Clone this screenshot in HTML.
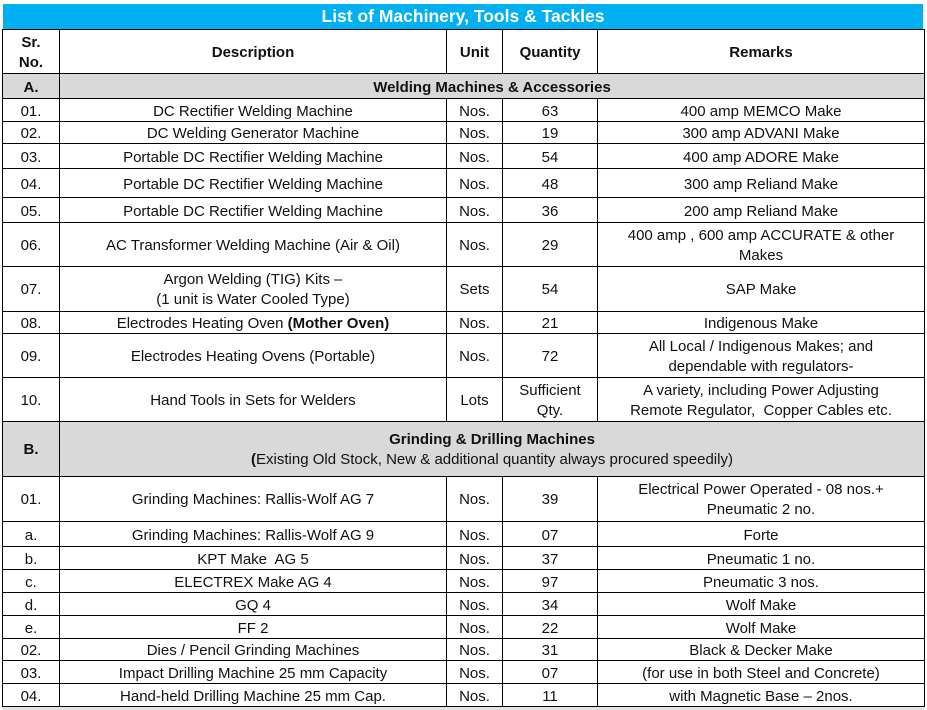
<!DOCTYPE html>
<html><head><meta charset="utf-8"><style>
body{margin:0;width:927px;height:710px;background:#fff;position:relative;overflow:hidden;font-family:"Liberation Sans",sans-serif;}
.title{position:absolute;left:3px;top:4px;width:920px;height:25px;background:#00b0f0;color:#fff;font-weight:bold;font-size:17.5px;text-align:center;line-height:25px;}
table{position:absolute;left:2px;top:29px;border-collapse:collapse;table-layout:fixed;width:922px;font-size:15px;color:#111;}
td{border:1px solid #000;text-align:center;vertical-align:middle;padding:2px 2px 0 2px;line-height:19px;white-space:nowrap;overflow:hidden;}
tr.m td{line-height:20px;}
.g td{background:#d9d9d9;}
b{font-weight:bold}
.bot{position:absolute;left:2px;top:707px;width:922px;height:3px;background:#e4e4e4;}
</style></head><body>
<div class="title">List of Machinery, Tools &amp; Tackles</div>
<table>
<colgroup><col style="width:57px"><col style="width:387px"><col style="width:56px"><col style="width:95px"><col style="width:327px"></colgroup>
<tr class="m" style="height:44px"><td><b>Sr.<br>No.</b></td><td><b>Description</b></td><td><b>Unit</b></td><td><b>Quantity</b></td><td><b>Remarks</b></td></tr>
<tr class="g" style="height:25px"><td><b>A.</b></td><td colspan="4"><b>Welding Machines &amp; Accessories</b></td></tr>
<tr style="height:23px"><td>01.</td><td>DC Rectifier Welding Machine</td><td>Nos.</td><td>63</td><td>400 amp MEMCO Make</td></tr>
<tr style="height:22px"><td>02.</td><td>DC Welding Generator Machine</td><td>Nos.</td><td>19</td><td>300 amp ADVANI Make</td></tr>
<tr style="height:25px"><td>03.</td><td>Portable DC Rectifier Welding Machine</td><td>Nos.</td><td>54</td><td>400 amp ADORE Make</td></tr>
<tr style="height:29px"><td>04.</td><td>Portable DC Rectifier Welding Machine</td><td>Nos.</td><td>48</td><td>300 amp Reliand Make</td></tr>
<tr style="height:25px"><td>05.</td><td>Portable DC Rectifier Welding Machine</td><td>Nos.</td><td>36</td><td>200 amp Reliand Make</td></tr>
<tr class="m" style="height:44px"><td>06.</td><td>AC Transformer Welding Machine (Air &amp; Oil)</td><td>Nos.</td><td>29</td><td>400 amp , 600 amp ACCURATE &amp; other<br>Makes</td></tr>
<tr class="m" style="height:45px"><td>07.</td><td>Argon Welding (TIG) Kits –<br>(1 unit is Water Cooled Type)</td><td>Sets</td><td>54</td><td>SAP Make</td></tr>
<tr style="height:22px"><td>08.</td><td>Electrodes Heating Oven <b>(Mother Oven)</b></td><td>Nos.</td><td>21</td><td>Indigenous Make</td></tr>
<tr class="m" style="height:44px"><td>09.</td><td>Electrodes Heating Ovens (Portable)</td><td>Nos.</td><td>72</td><td>All Local / Indigenous Makes; and<br>dependable with regulators-</td></tr>
<tr class="m" style="height:44px"><td>10.</td><td>Hand Tools in Sets for Welders</td><td>Lots</td><td>Sufficient<br>Qty.</td><td>A variety, including Power Adjusting<br>Remote Regulator,&nbsp; Copper Cables etc.</td></tr>
<tr class="g m" style="height:55px"><td><b>B.</b></td><td colspan="4"><b>Grinding &amp; Drilling Machines</b><br><b>(</b>Existing Old Stock, New &amp; additional quantity always procured speedily)</td></tr>
<tr class="m" style="height:45px"><td>01.</td><td>Grinding Machines: Rallis-Wolf AG 7</td><td>Nos.</td><td>39</td><td>Electrical Power Operated - 08 nos.+<br>Pneumatic 2 no.</td></tr>
<tr style="height:25px"><td>a.</td><td>Grinding Machines: Rallis-Wolf AG 9</td><td>Nos.</td><td>07</td><td>Forte</td></tr>
<tr style="height:23px"><td>b.</td><td>KPT Make&nbsp; AG 5</td><td>Nos.</td><td>37</td><td>Pneumatic 1 no.</td></tr>
<tr style="height:23px"><td>c.</td><td>ELECTREX Make AG 4</td><td>Nos.</td><td>97</td><td>Pneumatic 3 nos.</td></tr>
<tr style="height:23px"><td>d.</td><td>GQ 4</td><td>Nos.</td><td>34</td><td>Wolf Make</td></tr>
<tr style="height:23px"><td>e.</td><td>FF 2</td><td>Nos.</td><td>22</td><td>Wolf Make</td></tr>
<tr style="height:22px"><td>02.</td><td>Dies / Pencil Grinding Machines</td><td>Nos.</td><td>31</td><td>Black &amp; Decker Make</td></tr>
<tr style="height:23px"><td>03.</td><td>Impact Drilling Machine 25 mm Capacity</td><td>Nos.</td><td>07</td><td>(for use in both Steel and Concrete)</td></tr>
<tr style="height:23px"><td>04.</td><td>Hand-held Drilling Machine 25 mm Cap.</td><td>Nos.</td><td>11</td><td>with Magnetic Base – 2nos.</td></tr>
</table>
<div class="bot"></div>
</body></html>
